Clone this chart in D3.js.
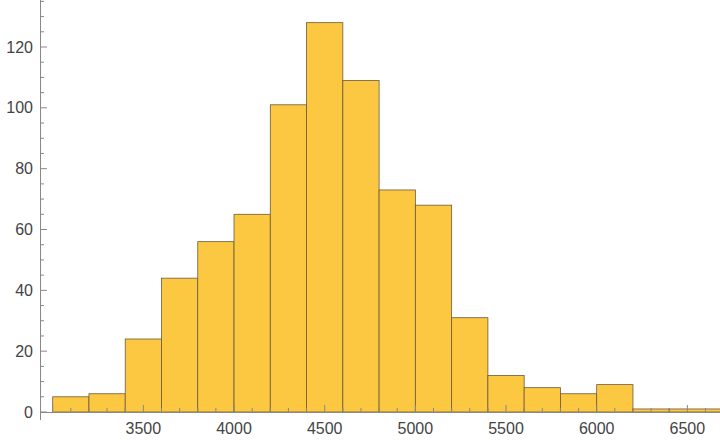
<!DOCTYPE html><html><head><script src="https://cdn.jsdelivr.net/npm/d3@7"></script>
<style>body{margin:0;background:#fff}</style></head><body><svg id="c" width="720" height="444"></svg><script>
const binStarts=[3000,3200,3400,3600,3800,4000,4200,4400,4600,4800,5000,5200,5400,5600,5800,6000,6200,6400,6600];
const counts=[5,6,24,44,56,65,101,128,109,73,68,31,12,8,6,9,1,1,1];
const binWidth=200;
const xTicks=[3500,4000,4500,5000,5500,6000,6500];
const yTicks=[0,20,40,60,80,100,120];
const svg=d3.select("#c");
const x=d3.scaleLinear().domain([2930,6680]).range([40,720]);
const y=d3.scaleLinear().domain([0,120]).range([412,47]);
svg.append("g").selectAll("rect").data(binStarts).join("rect")
 .attr("x",d=>x(d)).attr("width",d=>x(d+binWidth)-x(d))
 .attr("y",(d,i)=>y(counts[i])).attr("height",(d,i)=>y(0)-y(counts[i]))
 .attr("fill","#fdc841").attr("stroke","#6b5a3a").attr("stroke-width",0.8);
const ax="#888";
svg.append("line").attr("x1",40).attr("x2",720).attr("y1",412.5).attr("y2",412.5).attr("stroke",ax);
svg.append("line").attr("x1",40.5).attr("x2",40.5).attr("y1",0).attr("y2",420).attr("stroke",ax);
const xm=d3.range(3000,6701,100);
svg.append("g").selectAll("line").data(xm).join("line")
 .attr("x1",d=>x(d)).attr("x2",d=>x(d)).attr("y1",412).attr("y2",d=>d%500==0?405:408).attr("stroke",ax);
const ym=d3.range(0,136,5);
svg.append("g").selectAll("line").data(ym).join("line")
 .attr("y1",d=>y(d)).attr("y2",d=>y(d)).attr("x1",40).attr("x2",d=>d%20==0?47:44).attr("stroke",ax);
svg.append("g").selectAll("text").data(xTicks).join("text")
 .attr("x",d=>x(d)).attr("y",434).attr("text-anchor","middle").attr("font-family","Liberation Sans, Arial").attr("font-size",16).attr("fill","#444").text(d=>d);
svg.append("g").selectAll("text").data(yTicks).join("text")
 .attr("x",33).attr("y",d=>y(d)+5.5).attr("text-anchor","end").attr("font-family","Liberation Sans, Arial").attr("font-size",16).attr("fill","#444").text(d=>d);
</script></body></html>
